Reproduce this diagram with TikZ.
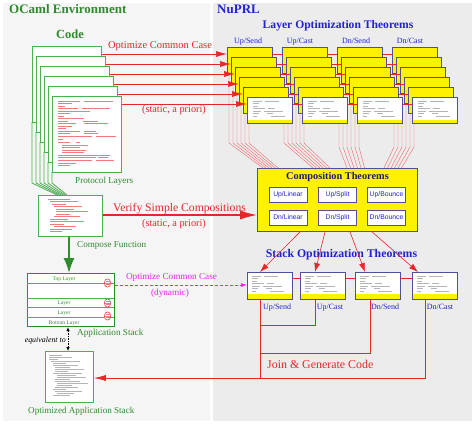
\documentclass[tikz,border=0pt]{standalone}
\usepackage{fontspec}
\setmainfont{Liberation Serif}
\newfontfamily\sansf{Liberation Sans}
\usetikzlibrary{arrows.meta,calc}
\definecolor{grn}{HTML}{2E8B2E}
\definecolor{pgrn}{HTML}{4CAF50}
\definecolor{rd}{HTML}{E8262A}
\definecolor{lrd}{HTML}{F07A7C}
\definecolor{blu}{HTML}{2222D0}
\definecolor{navy}{HTML}{1A1A70}
\definecolor{bord}{HTML}{50509A}
\definecolor{mag}{HTML}{F020F0}
\definecolor{lpanel}{HTML}{F5F5F5}
\definecolor{rpanel}{HTML}{ECECEC}
\definecolor{scr}{HTML}{B4B4B4}
\newcommand{\fs}[1]{\fontsize{#1}{#1}\selectfont}
\begin{document}
\begin{tikzpicture}[x=1pt,y=-1pt,
  page/.style={draw=pgrn,fill=white,line width=0.8pt,inner sep=0pt,anchor=north west,minimum width=69pt,minimum height=76pt},
  ybox/.style={draw=bord,fill=yellow,line width=0.9pt,inner sep=0pt,anchor=north west,minimum width=45pt,minimum height=26pt},
  wbox/.style={ybox,fill=white},
  cbox/.style={draw=bord,fill=white,line width=0.8pt,inner sep=0pt,minimum width=38pt,minimum height=15pt,text=blu,font=\sansf\fs{6.8}},
  redarr/.style={draw=rd,line width=0.6pt,-{Latex[length=11pt,width=6pt]}},
  thin/.style={draw=rd,line width=0.4pt},
  lbl/.style={inner sep=0pt,anchor=base},
  scrib/.pic={\draw[line width=0.3pt,pic actions] (0,0)--(9,0) (12,0)--(26,0) (0,2.5)--(6,2.5) (0,5)--(5,5) (0,7.5)--(12,7.5) (15,7.5)--(22,7.5) (0,10)--(8,10) (11,10)--(30,10) (0,12.5)--(6,12.5) (14,12.5)--(20,12.5) (0,15)--(4,15) (18,15)--(32,15);}
]
\useasboundingbox (0,0) rectangle (474,424);
% panels
\fill[lpanel] (3,3) rectangle (210,421);
\fill[rpanel] (213,3) rectangle (472,421);

% titles
\node[lbl,anchor=base west,text=grn,font=\bfseries\fs{13}] (tocaml) at (9,13) {OCaml Environment};
\node[lbl,anchor=base west,text=blu,font=\bfseries\fs{13}] (tnuprl) at (217,13) {NuPRL};
\node[lbl,text=grn,font=\bfseries\fs{12.5}] (tcode) at (70,38) {Code};
\node[lbl,text=blu,font=\bfseries\fs{11.6}] (tlot) at (338,28) {Layer Optimization Theorems};

% column labels (top)
\foreach \t/\x in {{Up/Send}/248,{Up/Cast}/300,{Dn/Send}/356,{Dn/Cast}/410}
  \node[lbl,text=blu,font=\fs{8}] at (\x,43) {\t};

% protocol layer pages
\foreach \j in {0,...,5}{
  \coordinate (cin\j) at ({57+2*\j},195);
  \draw[pgrn,line width=0.8pt] ({32+4*\j},{122+10*\j}) -- ({32+4*\j},183) -- (cin\j);
}
\foreach \j in {0,...,5}
  \node[page] (p\j) at ({32+4*\j},{46+10*\j}) {};
% code scribbles on front page
\foreach \y/\a/\b in {101/58/80,103/58/72,106/58/65,108/58/78,111/58/90,113/58/70,116/58/64,118/58/84,121/58/68,123/58/76,126/58/72,128/58/66,131/58/80,133/58/70,136/58/92,139/58/63,142/58/70,145/62/88,147/62/80,150/62/86,152/62/84,155/58/110,157/58/96,160/58/92,163/58/76,165/58/70}
  \draw[lrd,line width=0.3pt] (\a,\y) -- (\b,\y);
\foreach \y/\a/\b in {101/84/113,108/82/110,121/83/98,123/84/108,131/84/96,133/84/98,136/96/116,142/76/80,157/98/108,160/96/114}
  \draw[lrd,line width=0.3pt] (\a,\y) -- (\b,\y);
\node[lbl,anchor=base west,text=grn,font=\fs{9.1}] (tprot) at (75,183) {Protocol Layers};

% layer theorem stacks
\foreach \c in {0,...,3}{
  \foreach \j in {0,...,5}{
    \pgfmathsetmacro{\xx}{227+55*\c+4*\j}
    \pgfmathsetmacro{\yy}{73+10*\j}
    \pgfmathsetmacro{\tx}{\c==0 ? 263+3*\j : (\c==1 ? 313+3.4*\j : (\c==2 ? 347+3.5*\j : 384+3.5*\j))}
    \pgfmathsetmacro{\by}{\c<2 ? 143 : 147}
    \draw[rd!70,line width=0.4pt] ({\xx+2},\yy) -- ({\xx+2},\by) -- (\tx,168);
  }
}
\foreach \c in {0,...,3}{
  \foreach \j in {0,...,4}
    \node[ybox] (L\c\j) at ({227+55*\c+4*\j},{47+10*\j}) {};
  \node[wbox] (L\c5) at ({227+55*\c+20},97) {};
  \fill[yellow] ($(L\c5.south west)+(0.5,-4)$) rectangle ($(L\c5.south east)+(-0.5,-0.5)$);
  \draw[bord,line width=0.9pt] (L\c5.north west) rectangle (L\c5.south east);
  \pic[scr] at ($(L\c5.north west)+(6,4)$) {scrib};
}
% lines between columns
\foreach \c/\d in {0/1,1/2,2/3}
  \foreach \j in {0,...,5}
    \draw[thin] ([yshift=-7pt]L\c\j.north east) -- ([yshift=-7pt]L\d\j.north west);
% arrows from code to layer theorems
\foreach \j in {0,...,5}
  \draw[redarr] ([yshift=-8pt]p\j.north east) -- ([yshift=-7pt]L0\j.north west);
\node[lbl,text=rd,font=\fs{10.5}] (tocc) at (160,48) {Optimize Common Case};
\node[lbl,text=rd,font=\fs{10.3}] (tsap1) at (174,112) {(static, a priori)};

% compose function
\node[page,minimum width=64pt,minimum height=41pt] (cf) at (38,195) {};
\foreach \y/\a/\b in {199/48/70,201/50/78,204/52/66,206/54/82,209/56/74,211/56/88,214/56/70,216/54/80,219/50/68,221/50/84,224/50/64,226/54/76,229/50/72,231/50/62}
  \draw[lrd,line width=0.3pt] (\a,\y) -- (\b,\y);
\node[lbl,anchor=base west,text=grn,font=\fs{9.1}] (tcf) at (77,247) {Compose Function};

% composition theorems
\node[ybox,minimum width=160pt,minimum height=63pt] (comp) at (257,168) {};
\node[lbl,text=navy,font=\bfseries\fs{10.3}] (tcomp) at (337.5,179) {Composition Theorems};
\node[cbox] (ul) at (288,194.5) {Up/Linear};
\node[cbox] (us) at (337.5,194.5) {Up/Split};
\node[cbox] (ub) at (386.5,194.5) {Up/Bounce};
\node[cbox] (dl) at (288,217.5) {Dn/Linear};
\node[cbox] (ds) at (337.5,217.5) {Dn/Split};
\node[cbox] (db) at (386.5,217.5) {Dn/Bounce};

% verify arrow
\draw[draw=rd,line width=1.1pt,-{Latex[length=17pt,width=9pt]}] (cf.east |- 0,215) -- (comp.west |- 0,215);
\node[lbl,anchor=base west,text=rd,font=\fs{11.65}] (tvsc) at (113,211) {Verify Simple Compositions};
\node[lbl,text=rd,font=\fs{10.3}] (tsap2) at (174,226) {(static, a priori)};

% stack optimization theorems
\node[lbl,text=blu,font=\bfseries\fs{11.8}] (tsot) at (341.5,257) {Stack Optimization Theorems};
\foreach \i/\x in {1/247,2/300,3/355,4/412}{
  \node[wbox,minimum height=27pt] (S\i) at (\x,272) {};
  \fill[yellow] ($(S\i.south west)+(0.5,-6)$) rectangle ($(S\i.south east)+(-0.5,-0.5)$);
  \draw[bord,line width=0.9pt] (S\i.north west) rectangle (S\i.south east);
  \pic[scr] at ($(S\i.north west)+(5,4)$) {scrib};
}
\foreach \a/\b in {1/2,2/3,3/4}
  \draw[thin] ([yshift=-6pt]S\a.north east) -- ([yshift=-6pt]S\b.north west);
\foreach \t/\x in {{Up/Send}/277,{Up/Cast}/330,{Dn/Send}/385,{Dn/Cast}/440}
  \node[lbl,text=blu,font=\fs{8}] at (\x,309) {\t};
% composition -> stack boxes
\tikzset{carr/.style={draw=rd,line width=0.6pt,-{Latex[length=9pt,width=6pt]}}}
\draw[carr] ($(comp.south west)+(43,0)$) -- ($(S1.north west)+(13,0)$);
\draw[carr] ($(comp.south west)+(68,0)$) -- ($(S2.north west)+(15,0)$);
\draw[carr] ($(comp.south west)+(93,0)$) -- ($(S3.north west)+(10,0)$);
\draw[carr] ($(comp.south west)+(115,0)$) -- ($(S4.north west)+(6,0)$);

% application stack
\node[draw=grn,fill=white,line width=1.2pt,inner sep=0pt,anchor=north west,minimum width=87pt,minimum height=53pt] (app) at (27,273) {};
\foreach \y in {283,298,307,317}
  \draw[pgrn,line width=0.8pt] (27,\y) -- (114,\y);
\node[lbl,text=grn,font=\fs{5.5}] at (64,280) {Top Layer};
\node[lbl,text=grn,font=\fs{5.5}] at (64,304) {Layer};
\node[lbl,text=grn,font=\fs{5.5}] at (64,314) {Layer};
\node[lbl,text=grn,font=\fs{5.5}] at (64,324) {Bottom Layer};
\foreach \y in {283,303,316}{
  \fill[white] (107.5,\y) ellipse (3.2 and 4.2);
  \draw[rd,line width=0.5pt] (107.5,\y) ellipse (3.2 and 4.2);
  \draw[lrd,line width=0.3pt] (105.5,{\y-1.5}) -- (109.5,{\y-1.5}) (105.2,\y) -- (109.8,\y) (105.5,{\y+1.5}) -- (109.5,{\y+1.5});
}
\node[lbl,anchor=base west,text=grn,font=\fs{9.2}] (tapp) at (77,335) {Application Stack};
% green compose arrow
\draw[draw=grn,line width=1.8pt,-{Latex[length=15pt,width=11pt]}] (cf.south -| 69,0) -- (app.north -| 69,0);

% optimized app stack
\node[draw=pgrn,fill=white,line width=0.9pt,inner sep=0pt,anchor=north west,minimum width=48pt,minimum height=51pt] (oapp) at (45,351) {};
\foreach \y/\a/\b in {355/49/62,357/49/72,359/49/58,361/51/80,363/53/66,365/53/78,367/55/70,369/55/84,371/55/68,373/53/82,375/57/76,377/57/86,379/55/70,381/55/80,383/57/88,385/57/72,387/55/78,389/53/66,391/55/82,393/57/74,395/53/70}
  \draw[scr,line width=0.3pt] (\a,\y) -- (\b,\y);
\node[lbl,anchor=base west,text=grn,font=\fs{9.1}] (toapp) at (28,413) {Optimized Application Stack};
% equivalent to
\draw[densely dotted,line width=0.7pt,{Latex[length=4pt,width=3.5pt]}-{Latex[length=4pt,width=3.5pt]}] (app.south -| 68,0) -- (oapp.north -| 68,0);
\node[lbl,anchor=base east,font=\itshape\fs{7.9}] (teq) at (66,342) {equivalent to};

% magenta dynamic arrow
\draw[mag,dashed,dash pattern=on 3pt off 2pt,line width=0.7pt,-{Latex[length=6pt,width=4pt]}] (app.east |- 0,285) -- (S1.west |- 0,285);
\node[lbl,text=mag,font=\fs{9.2}] (tocc2) at (171.5,279) {Optimize Common Case};
\node[lbl,text=mag,font=\fs{9.2}] (tdyn) at (170,295) {(dynamic)};

% join & generate
\coordinate (j1) at (260,378);
\draw[rd,line width=0.7pt] (S1.south -| 260,0) -- (j1);
\draw[rd,line width=0.7pt] (S2.south -| 315,0) |- (260,325);
\draw[rd,line width=0.7pt] (S3.south -| 370,0) |- (260,353);
\draw[rd,line width=0.7pt,-{Latex[length=12pt,width=6pt]}] (S4.south -| 425,0) |- (oapp.east |- 0,378);
\node[lbl,anchor=base west,text=rd,font=\fs{11.9}] (tjoin) at (267,368) {Join \& Generate Code};
\end{tikzpicture}
\end{document}
